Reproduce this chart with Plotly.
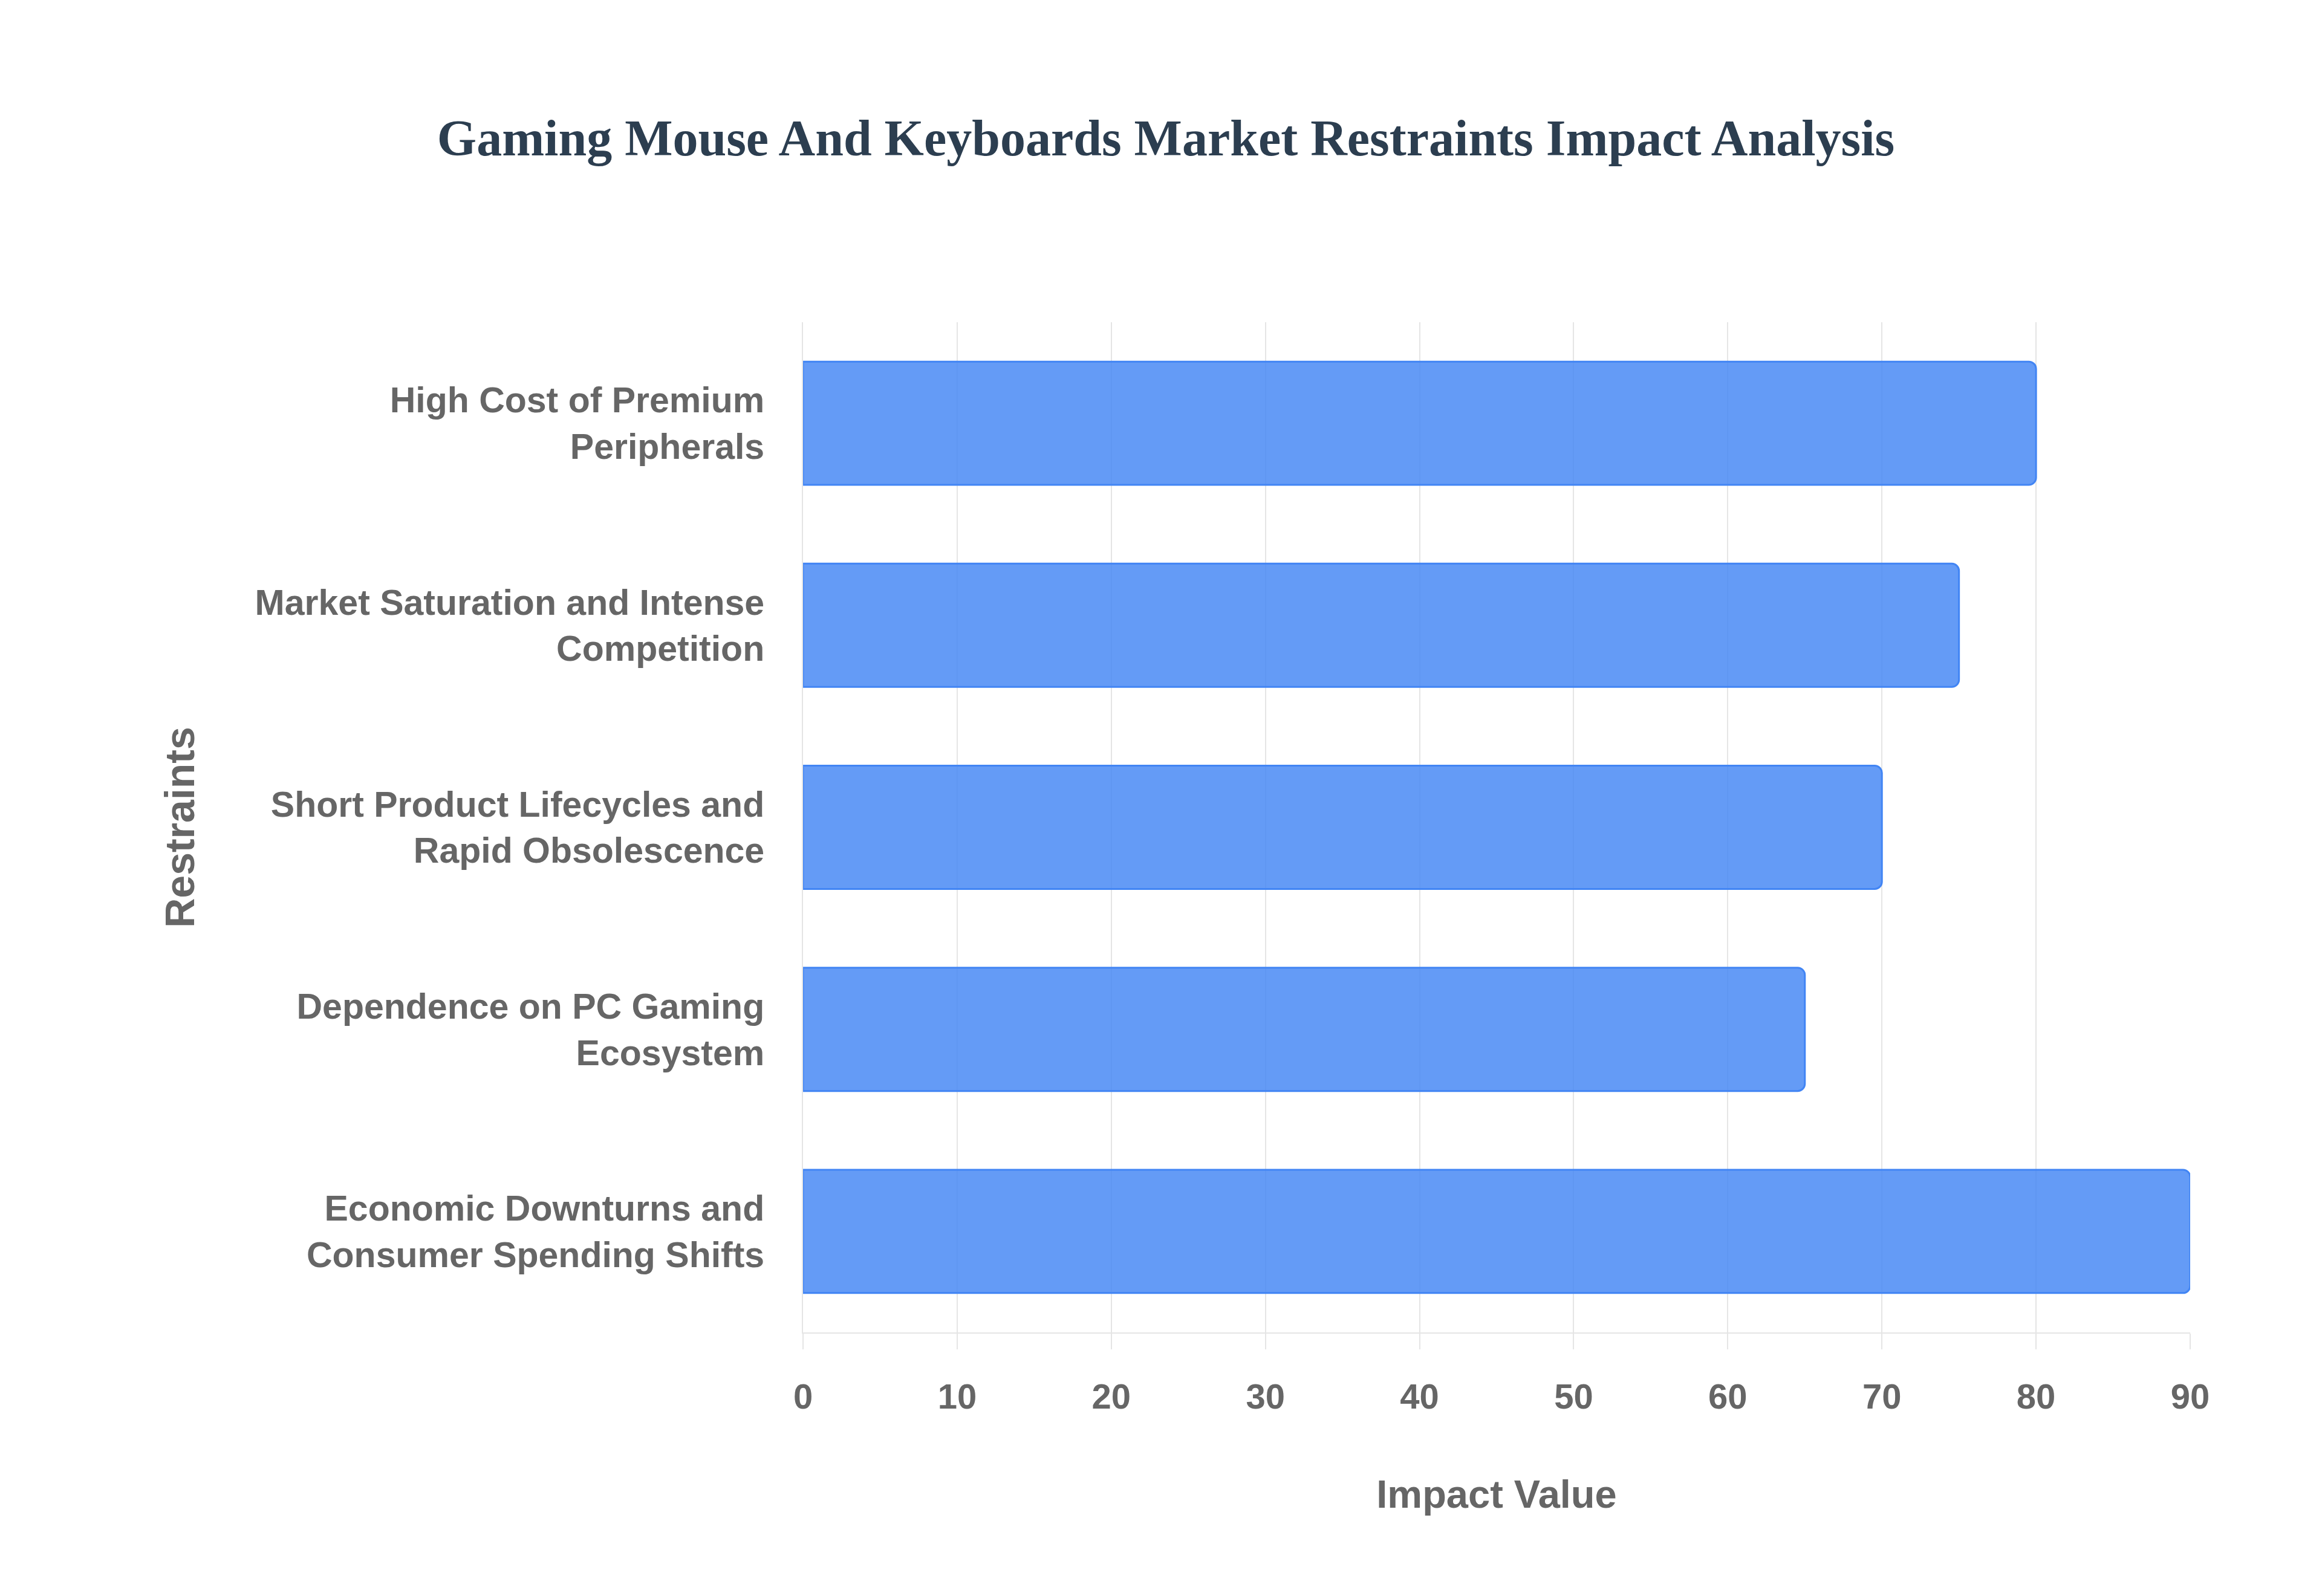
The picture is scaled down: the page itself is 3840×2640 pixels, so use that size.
import plotly.graph_objects as go

# chart data
restraints = [
    "High Cost of Premium<br>Peripherals",
    "Market Saturation and Intense<br>Competition",
    "Short Product Lifecycles and<br>Rapid Obsolescence",
    "Dependence on PC Gaming<br>Ecosystem",
    "Economic Downturns and<br>Consumer Spending Shifts",
]
impact_values = [80, 75, 70, 65, 90]
x_ticks = [0, 10, 20, 30, 40, 50, 60, 70, 80, 90]

fig = go.Figure(
    go.Bar(
        x=impact_values,
        y=restraints,
        orientation="h",
        width=0.61,
        marker=dict(
            color="rgba(66,133,244,0.82)",
            line=dict(color="rgba(66,133,244,1)", width=3),
        ),
        hoverinfo="x+y",
    )
)

fig.update_layout(
    width=3840,
    height=2640,
    paper_bgcolor="white",
    plot_bgcolor="white",
    showlegend=False,
    barcornerradius=12,
    margin=dict(l=1320, r=226, t=525, b=444),
    title=dict(
        text="<b>Gaming Mouse And Keyboards Market Restraints Impact Analysis</b>",
        font=dict(family="Liberation Serif", size=84, color="#2c3e50"),
        x=0.5,
        xanchor="center",
        y=0.917,
        yanchor="middle",
    ),
    font=dict(family="Liberation Sans", size=58, color="#666666"),
)

fig.update_xaxes(
    range=[0, 90],
    tickvals=x_ticks,
    tickfont=dict(family="Liberation Sans", size=58, color="#666666", weight="bold"),
    showgrid=True,
    gridcolor="#e5e5e5",
    gridwidth=2,
    zeroline=False,
    showline=True,
    linecolor="#e5e5e5",
    linewidth=2,
    ticks="outside",
    ticklen=26,
    tickcolor="#e5e5e5",
    tickwidth=2,
    ticklabelstandoff=28,
    title=dict(
        text="<b>Impact Value</b>",
        font=dict(family="Liberation Sans", size=65, color="#666666"),
        standoff=108,
    ),
)

fig.update_yaxes(
    autorange="reversed",
    tickfont=dict(family="Liberation Sans", size=59, color="#666666", weight="bold"),
    showgrid=False,
    showline=True,
    linecolor="#e5e5e5",
    linewidth=2,
    ticks="outside",
    ticklen=0,
    tickcolor="white",
    ticklabelstandoff=50,
    title=dict(
        text="<b>Restraints</b>",
        font=dict(family="Liberation Sans", size=68, color="#666666"),
        standoff=78,
    ),
)

fig.write_html("out.html")
